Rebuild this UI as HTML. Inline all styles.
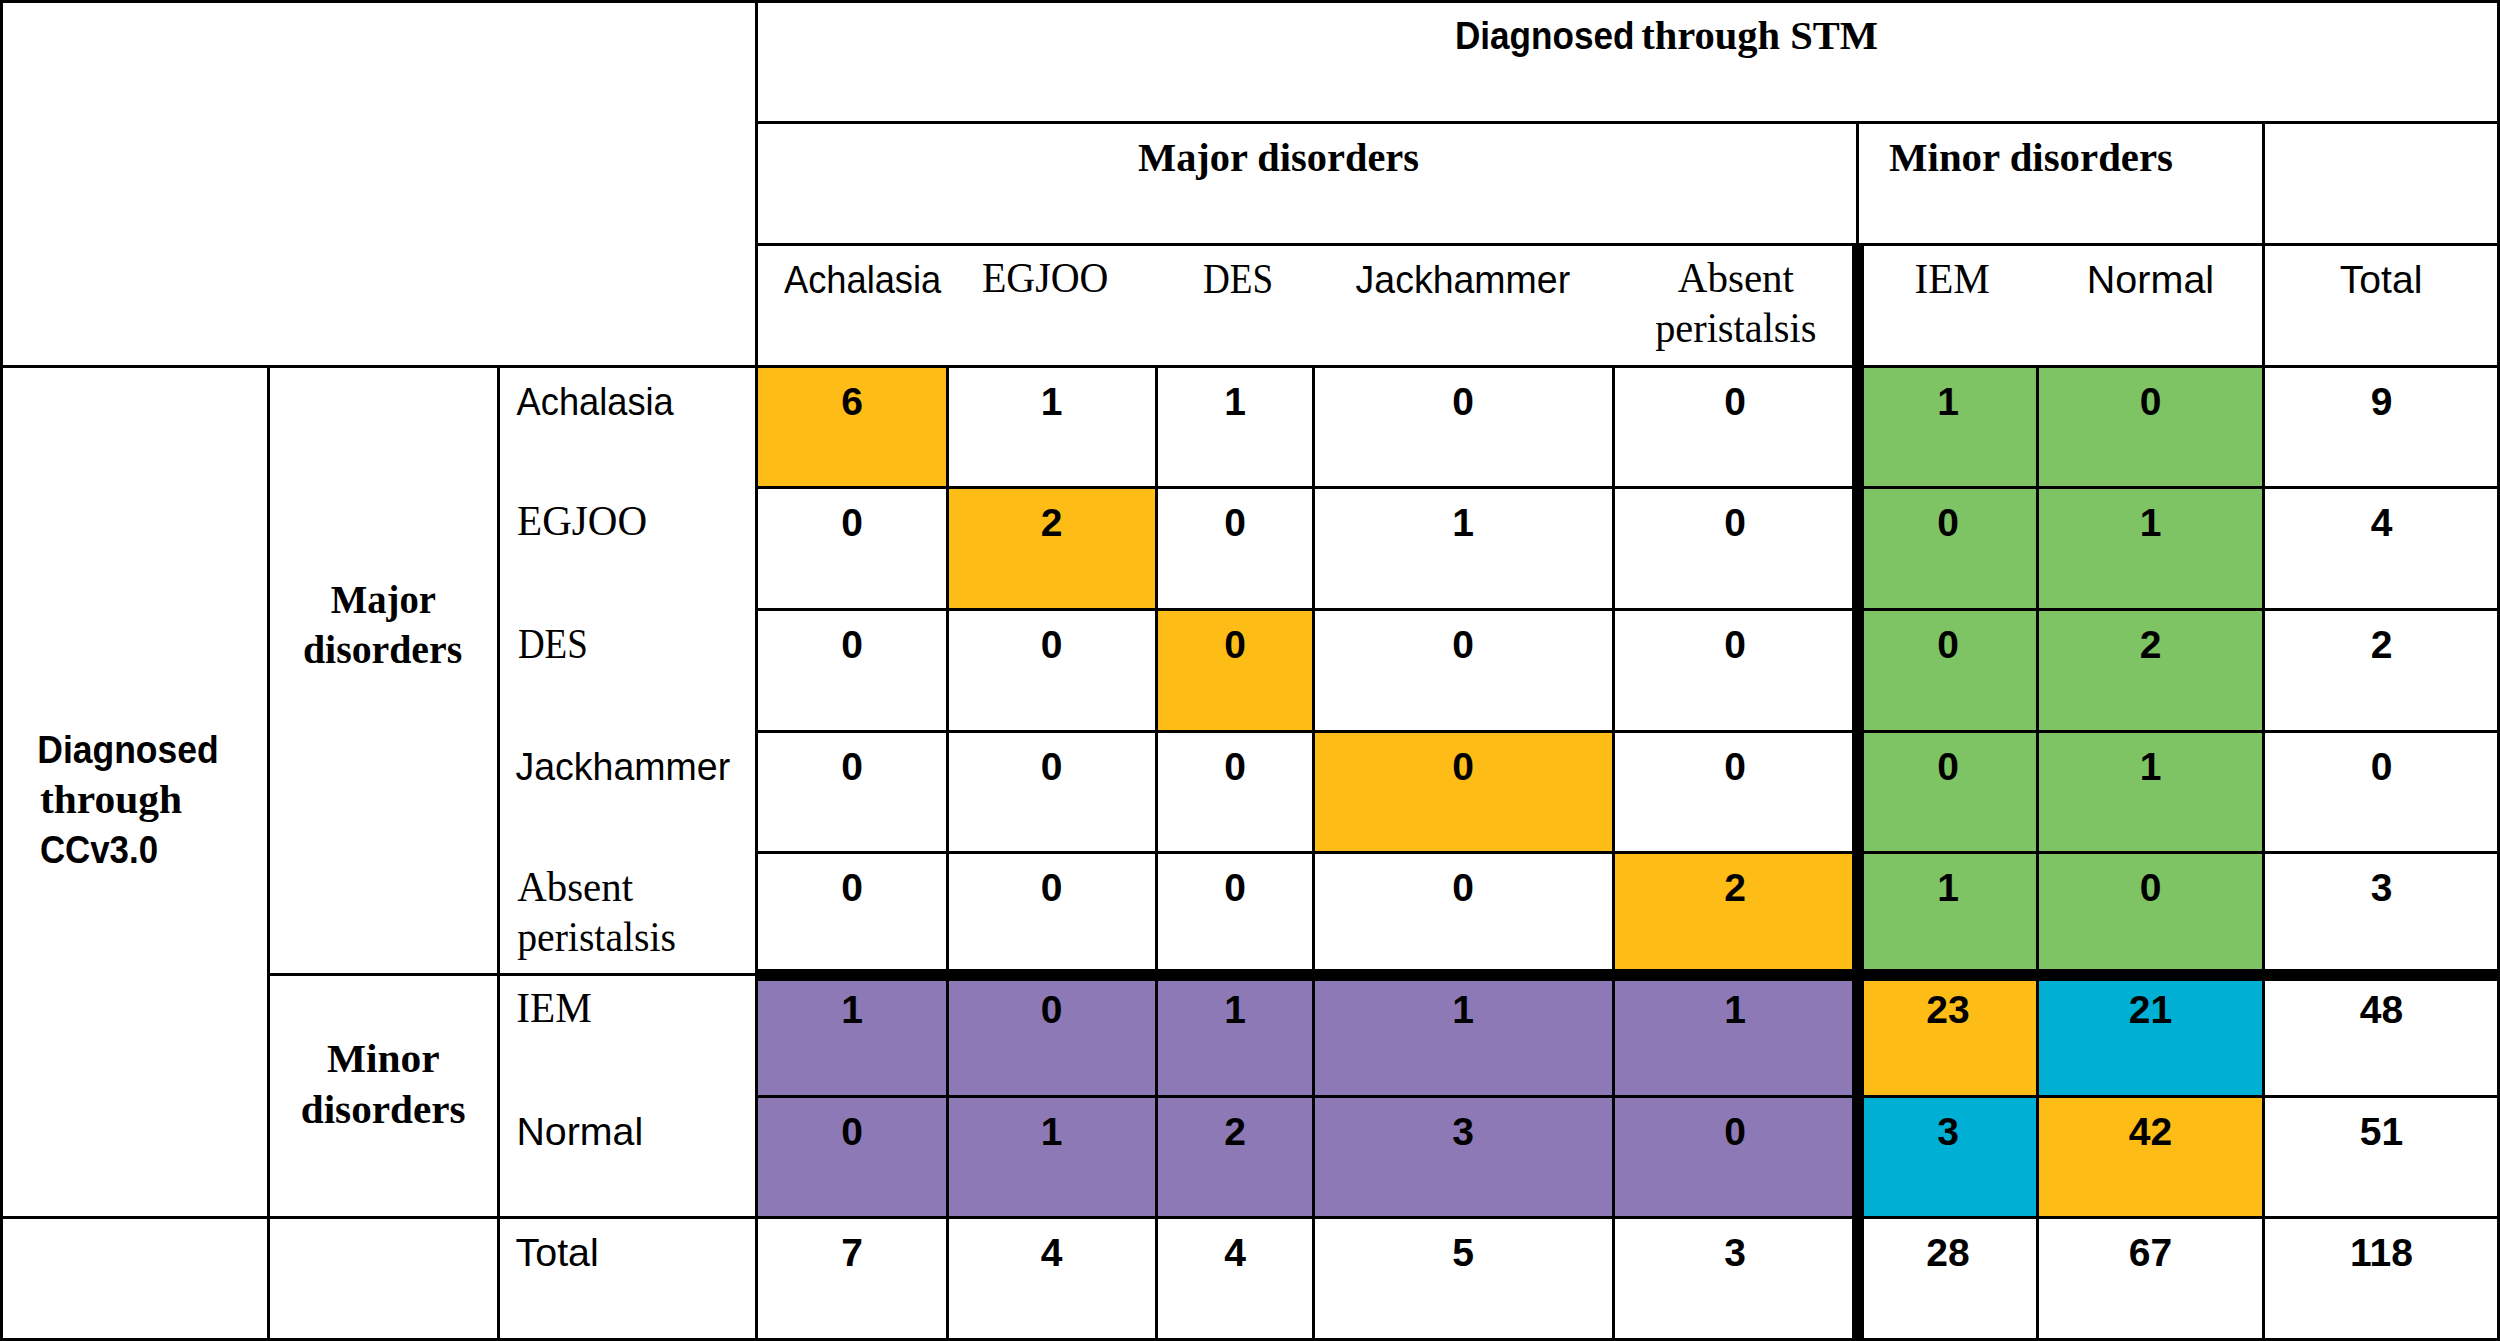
<!DOCTYPE html>
<html><head><meta charset="utf-8"><title>Table</title>
<style>
html,body{margin:0;padding:0;background:#fff;width:2500px;height:1341px;overflow:hidden;}
svg{display:block;}
text{fill:#000;}
.rs{font-family:"Liberation Sans",sans-serif;}
.bs{font-family:"Liberation Sans",sans-serif;font-weight:bold;}
.rf{font-family:"Liberation Serif",serif;}
.bf{font-family:"Liberation Serif",serif;font-weight:bold;}
</style></head>
<body>
<svg width="2500" height="1341" viewBox="0 0 2500 1341">
<rect x="0" y="0" width="2500" height="1341" fill="#fff"/>
<rect x="755" y="365" width="191" height="121" fill="#FEBC16"/>
<rect x="1852" y="365" width="184" height="121" fill="#7EC464"/>
<rect x="2036" y="365" width="226" height="121" fill="#7EC464"/>
<rect x="946" y="486" width="209" height="122" fill="#FEBC16"/>
<rect x="1852" y="486" width="184" height="122" fill="#7EC464"/>
<rect x="2036" y="486" width="226" height="122" fill="#7EC464"/>
<rect x="1155" y="608" width="157" height="122" fill="#FEBC16"/>
<rect x="1852" y="608" width="184" height="122" fill="#7EC464"/>
<rect x="2036" y="608" width="226" height="122" fill="#7EC464"/>
<rect x="1312" y="730" width="300" height="121" fill="#FEBC16"/>
<rect x="1852" y="730" width="184" height="121" fill="#7EC464"/>
<rect x="2036" y="730" width="226" height="121" fill="#7EC464"/>
<rect x="1612" y="851" width="240" height="122" fill="#FEBC16"/>
<rect x="1852" y="851" width="184" height="122" fill="#7EC464"/>
<rect x="2036" y="851" width="226" height="122" fill="#7EC464"/>
<rect x="755" y="973" width="191" height="122" fill="#8C79B6"/>
<rect x="946" y="973" width="209" height="122" fill="#8C79B6"/>
<rect x="1155" y="973" width="157" height="122" fill="#8C79B6"/>
<rect x="1312" y="973" width="300" height="122" fill="#8C79B6"/>
<rect x="1612" y="973" width="240" height="122" fill="#8C79B6"/>
<rect x="755" y="1095" width="191" height="121" fill="#8C79B6"/>
<rect x="946" y="1095" width="209" height="121" fill="#8C79B6"/>
<rect x="1155" y="1095" width="157" height="121" fill="#8C79B6"/>
<rect x="1312" y="1095" width="300" height="121" fill="#8C79B6"/>
<rect x="1612" y="1095" width="240" height="121" fill="#8C79B6"/>
<rect x="1852" y="973" width="184" height="122" fill="#FEBC16"/>
<rect x="2036" y="973" width="226" height="122" fill="#00B0D4"/>
<rect x="1852" y="1095" width="184" height="121" fill="#00B0D4"/>
<rect x="2036" y="1095" width="226" height="121" fill="#FEBC16"/>
<rect x="0" y="0" width="2500" height="3" fill="#000"/>
<rect x="755" y="121" width="1745" height="3" fill="#000"/>
<rect x="755" y="243" width="1745" height="3" fill="#000"/>
<rect x="0" y="365" width="2500" height="3" fill="#000"/>
<rect x="755" y="486" width="1745" height="3" fill="#000"/>
<rect x="755" y="608" width="1745" height="3" fill="#000"/>
<rect x="755" y="730" width="1745" height="3" fill="#000"/>
<rect x="755" y="851" width="1745" height="3" fill="#000"/>
<rect x="755" y="1095" width="1745" height="3" fill="#000"/>
<rect x="267" y="973" width="490" height="3" fill="#000"/>
<rect x="755" y="969" width="1745" height="12" fill="#000"/>
<rect x="0" y="1216" width="2500" height="3" fill="#000"/>
<rect x="0" y="1338" width="2500" height="3" fill="#000"/>
<rect x="0" y="0" width="3" height="1341" fill="#000"/>
<rect x="267" y="365" width="3" height="976" fill="#000"/>
<rect x="497" y="365" width="3" height="976" fill="#000"/>
<rect x="946" y="365" width="3" height="976" fill="#000"/>
<rect x="1155" y="365" width="3" height="976" fill="#000"/>
<rect x="1312" y="365" width="3" height="976" fill="#000"/>
<rect x="1612" y="365" width="3" height="976" fill="#000"/>
<rect x="2036" y="365" width="3" height="976" fill="#000"/>
<rect x="755" y="0" width="3" height="1341" fill="#000"/>
<rect x="1856" y="121" width="3" height="124" fill="#000"/>
<rect x="1852" y="243" width="12" height="1098" fill="#000"/>
<rect x="2262" y="121" width="3" height="1220" fill="#000"/>
<rect x="2497" y="0" width="3" height="1341" fill="#000"/>
<text class="bs" x="1454.91" y="49" font-size="39" textLength="179.55" lengthAdjust="spacingAndGlyphs">Diagnosed</text>
<text class="bf" x="1641.19" y="49" font-size="41" textLength="236.83" lengthAdjust="spacingAndGlyphs">through STM</text>
<text class="bf" x="1138" y="171" font-size="41" textLength="281.01" lengthAdjust="spacingAndGlyphs">Major disorders</text>
<text class="bf" x="1889" y="171" font-size="41" textLength="284.03" lengthAdjust="spacingAndGlyphs">Minor disorders</text>
<text class="rs" x="784" y="293" font-size="39" textLength="157.2" lengthAdjust="spacingAndGlyphs">Achalasia</text>
<text class="rf" x="981.91" y="292" font-size="42.5" textLength="126.52" lengthAdjust="spacingAndGlyphs">EGJOO</text>
<text class="rf" x="1202.94" y="293" font-size="42.5" textLength="70.26" lengthAdjust="spacingAndGlyphs">DES</text>
<text class="rs" x="1355.58" y="293" font-size="39" textLength="214.61" lengthAdjust="spacingAndGlyphs">Jackhammer</text>
<text class="rf" x="1677.79" y="292" font-size="42.5" textLength="116.23" lengthAdjust="spacingAndGlyphs">Absent</text>
<text class="rf" x="1655.17" y="342" font-size="42.5" textLength="161.28" lengthAdjust="spacingAndGlyphs">peristalsis</text>
<text class="rf" x="1914.53" y="293" font-size="42.5" textLength="75.36" lengthAdjust="spacingAndGlyphs">IEM</text>
<text class="rs" x="2086.84" y="293" font-size="39" textLength="127.31" lengthAdjust="spacingAndGlyphs">Normal</text>
<text class="rs" x="2339.74" y="293" font-size="39" textLength="82.61" lengthAdjust="spacingAndGlyphs">Total</text>
<text class="rs" x="516.6" y="415" font-size="39" textLength="157.2" lengthAdjust="spacingAndGlyphs">Achalasia</text>
<text class="rf" x="517.12" y="535" font-size="42.5" textLength="129.93" lengthAdjust="spacingAndGlyphs">EGJOO</text>
<text class="rf" x="517.91" y="658" font-size="42.5" textLength="69.85" lengthAdjust="spacingAndGlyphs">DES</text>
<text class="rs" x="515.39" y="780" font-size="39" textLength="214.81" lengthAdjust="spacingAndGlyphs">Jackhammer</text>
<text class="rf" x="517.19" y="901" font-size="42.5" textLength="115.81" lengthAdjust="spacingAndGlyphs">Absent</text>
<text class="rf" x="517.17" y="951" font-size="42.5" textLength="158.82" lengthAdjust="spacingAndGlyphs">peristalsis</text>
<text class="rf" x="516.31" y="1022" font-size="42.5" textLength="75.58" lengthAdjust="spacingAndGlyphs">IEM</text>
<text class="rs" x="516.47" y="1145" font-size="39" textLength="126.7" lengthAdjust="spacingAndGlyphs">Normal</text>
<text class="rs" x="515.53" y="1266" font-size="39" textLength="83.24" lengthAdjust="spacingAndGlyphs">Total</text>
<text class="bf" x="330.77" y="613" font-size="41" textLength="105.26" lengthAdjust="spacingAndGlyphs">Major</text>
<text class="bf" x="302.95" y="663" font-size="41" textLength="159.28" lengthAdjust="spacingAndGlyphs">disorders</text>
<text class="bf" x="326.96" y="1072" font-size="41" textLength="112.63" lengthAdjust="spacingAndGlyphs">Minor</text>
<text class="bf" x="300.75" y="1123" font-size="41" textLength="164.84" lengthAdjust="spacingAndGlyphs">disorders</text>
<text class="bs" x="37.29" y="763" font-size="39" textLength="181.38" lengthAdjust="spacingAndGlyphs">Diagnosed</text>
<text class="bf" x="39.95" y="813" font-size="41" textLength="142.03" lengthAdjust="spacingAndGlyphs">through</text>
<text class="bs" x="39.95" y="863" font-size="39" textLength="118.11" lengthAdjust="spacingAndGlyphs">CCv3.0</text>
<text class="bs" x="852" y="415" font-size="39" text-anchor="middle">6</text>
<text class="bs" x="1051.5" y="415" font-size="39" text-anchor="middle">1</text>
<text class="bs" x="1235" y="415" font-size="39" text-anchor="middle">1</text>
<text class="bs" x="1463" y="415" font-size="39" text-anchor="middle">0</text>
<text class="bs" x="1735" y="415" font-size="39" text-anchor="middle">0</text>
<text class="bs" x="1948" y="415" font-size="39" text-anchor="middle">1</text>
<text class="bs" x="2150.5" y="415" font-size="39" text-anchor="middle">0</text>
<text class="bs" x="2381.5" y="415" font-size="39" text-anchor="middle">9</text>
<text class="bs" x="852" y="536" font-size="39" text-anchor="middle">0</text>
<text class="bs" x="1051.5" y="536" font-size="39" text-anchor="middle">2</text>
<text class="bs" x="1235" y="536" font-size="39" text-anchor="middle">0</text>
<text class="bs" x="1463" y="536" font-size="39" text-anchor="middle">1</text>
<text class="bs" x="1735" y="536" font-size="39" text-anchor="middle">0</text>
<text class="bs" x="1948" y="536" font-size="39" text-anchor="middle">0</text>
<text class="bs" x="2150.5" y="536" font-size="39" text-anchor="middle">1</text>
<text class="bs" x="2381.5" y="536" font-size="39" text-anchor="middle">4</text>
<text class="bs" x="852" y="658" font-size="39" text-anchor="middle">0</text>
<text class="bs" x="1051.5" y="658" font-size="39" text-anchor="middle">0</text>
<text class="bs" x="1235" y="658" font-size="39" text-anchor="middle">0</text>
<text class="bs" x="1463" y="658" font-size="39" text-anchor="middle">0</text>
<text class="bs" x="1735" y="658" font-size="39" text-anchor="middle">0</text>
<text class="bs" x="1948" y="658" font-size="39" text-anchor="middle">0</text>
<text class="bs" x="2150.5" y="658" font-size="39" text-anchor="middle">2</text>
<text class="bs" x="2381.5" y="658" font-size="39" text-anchor="middle">2</text>
<text class="bs" x="852" y="780" font-size="39" text-anchor="middle">0</text>
<text class="bs" x="1051.5" y="780" font-size="39" text-anchor="middle">0</text>
<text class="bs" x="1235" y="780" font-size="39" text-anchor="middle">0</text>
<text class="bs" x="1463" y="780" font-size="39" text-anchor="middle">0</text>
<text class="bs" x="1735" y="780" font-size="39" text-anchor="middle">0</text>
<text class="bs" x="1948" y="780" font-size="39" text-anchor="middle">0</text>
<text class="bs" x="2150.5" y="780" font-size="39" text-anchor="middle">1</text>
<text class="bs" x="2381.5" y="780" font-size="39" text-anchor="middle">0</text>
<text class="bs" x="852" y="901" font-size="39" text-anchor="middle">0</text>
<text class="bs" x="1051.5" y="901" font-size="39" text-anchor="middle">0</text>
<text class="bs" x="1235" y="901" font-size="39" text-anchor="middle">0</text>
<text class="bs" x="1463" y="901" font-size="39" text-anchor="middle">0</text>
<text class="bs" x="1735" y="901" font-size="39" text-anchor="middle">2</text>
<text class="bs" x="1948" y="901" font-size="39" text-anchor="middle">1</text>
<text class="bs" x="2150.5" y="901" font-size="39" text-anchor="middle">0</text>
<text class="bs" x="2381.5" y="901" font-size="39" text-anchor="middle">3</text>
<text class="bs" x="852" y="1023" font-size="39" text-anchor="middle">1</text>
<text class="bs" x="1051.5" y="1023" font-size="39" text-anchor="middle">0</text>
<text class="bs" x="1235" y="1023" font-size="39" text-anchor="middle">1</text>
<text class="bs" x="1463" y="1023" font-size="39" text-anchor="middle">1</text>
<text class="bs" x="1735" y="1023" font-size="39" text-anchor="middle">1</text>
<text class="bs" x="1948" y="1023" font-size="39" text-anchor="middle">23</text>
<text class="bs" x="2150.5" y="1023" font-size="39" text-anchor="middle">21</text>
<text class="bs" x="2381.5" y="1023" font-size="39" text-anchor="middle">48</text>
<text class="bs" x="852" y="1145" font-size="39" text-anchor="middle">0</text>
<text class="bs" x="1051.5" y="1145" font-size="39" text-anchor="middle">1</text>
<text class="bs" x="1235" y="1145" font-size="39" text-anchor="middle">2</text>
<text class="bs" x="1463" y="1145" font-size="39" text-anchor="middle">3</text>
<text class="bs" x="1735" y="1145" font-size="39" text-anchor="middle">0</text>
<text class="bs" x="1948" y="1145" font-size="39" text-anchor="middle">3</text>
<text class="bs" x="2150.5" y="1145" font-size="39" text-anchor="middle">42</text>
<text class="bs" x="2381.5" y="1145" font-size="39" text-anchor="middle">51</text>
<text class="bs" x="852" y="1266" font-size="39" text-anchor="middle">7</text>
<text class="bs" x="1051.5" y="1266" font-size="39" text-anchor="middle">4</text>
<text class="bs" x="1235" y="1266" font-size="39" text-anchor="middle">4</text>
<text class="bs" x="1463" y="1266" font-size="39" text-anchor="middle">5</text>
<text class="bs" x="1735" y="1266" font-size="39" text-anchor="middle">3</text>
<text class="bs" x="1948" y="1266" font-size="39" text-anchor="middle">28</text>
<text class="bs" x="2150.5" y="1266" font-size="39" text-anchor="middle">67</text>
<text class="bs" x="2381.5" y="1266" font-size="39" text-anchor="middle">118</text>
</svg>
</body></html>
